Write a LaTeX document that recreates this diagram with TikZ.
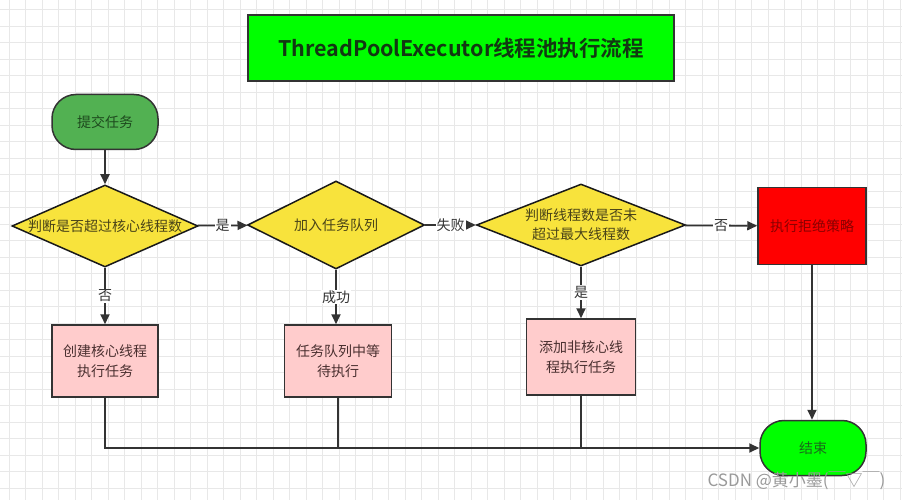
\documentclass[tikz,border=0pt]{standalone}
\usepackage{fontspec}
\setmainfont{Noto Sans CJK SC}[BoldFont={Noto Sans CJK SC Bold}]
\usetikzlibrary{arrows.meta, positioning, shapes.geometric}
\definecolor{grid-color}{HTML}{E8E8E8}
\definecolor{line-color}{HTML}{333333}
\definecolor{title-fill}{HTML}{00FF00}
\definecolor{title-text}{HTML}{123812}
\definecolor{start-fill}{HTML}{52B152}
\definecolor{start-text}{HTML}{1E4A1E}
\definecolor{cond-fill}{HTML}{F8E33C}
\definecolor{cond-text}{HTML}{4A4418}
\definecolor{task-fill}{HTML}{FFCCCC}
\definecolor{task-text}{HTML}{4A3030}
\definecolor{reject-fill}{HTML}{FF0000}
\definecolor{reject-text}{HTML}{8A0000}
\definecolor{end-fill}{HTML}{00FF00}
\definecolor{end-text}{HTML}{1A6A1A}
\definecolor{mark-color}{HTML}{9A9A9A}
\tikzset{
  title-node/.style={
    draw=line-color, fill=title-fill, line width=1.5pt,
    minimum width=426pt, minimum height=66pt, align=center,
    font=\fontsize{21.5}{25}\selectfont\bfseries, text=title-text
  },
  term-node/.style={
    draw=line-color, rounded corners=24pt, line width=1.5pt,
    minimum width=106pt, minimum height=55pt, align=center,
    font=\fontsize{14}{17}\selectfont
  },
  cond-node/.style={
    diamond, draw=black!90, fill=cond-fill, line width=1.5pt, inner sep=0pt,
    align=center, font=\fontsize{14}{19}\selectfont, text=cond-text
  },
  task-node/.style={
    draw=line-color, fill=task-fill, line width=1.5pt,
    minimum width=106pt, minimum height=72pt, align=center,
    font=\fontsize{14}{20}\selectfont, text=task-text
  },
  flow/.style={-{Triangle[length=10pt, width=9pt]}, line width=1.8pt, draw=line-color},
  merge-line/.style={line width=1.8pt, draw=line-color},
  edge-label/.style={fill=white, inner sep=1pt, font=\fontsize{14}{17}\selectfont, text=line-color}
}

\begin{document}
\begin{tikzpicture}[x=1pt, y=-1pt]
  \useasboundingbox (0,0) rectangle (902,500);
  \fill[white] (0,0) rectangle (902,500);
  % background grid
  \foreach \gx in {9,25.5,...,902} \draw[grid-color, line width=0.7pt] (\gx,0) -- (\gx,500);
  \foreach \gy in {9.5,26,...,500} \draw[grid-color, line width=0.7pt] (0,\gy) -- (902,\gy);

  \node[title-node] (title) at (461, 48) {ThreadPoolExecutor线程池执行流程};

  \node[term-node, fill=start-fill, text=start-text] (submit) at (105, 122) {提交任务};
  \node[cond-node, aspect=2.27, minimum width=186pt, minimum height=82pt] (core-check)  at (105, 226) {判断是否超过核心线程数};
  \node[cond-node, aspect=2.0, minimum width=177pt, minimum height=88pt] (queue-check) at (336, 225) {加入任务队列};
  \node[cond-node, aspect=2.55, minimum width=209pt, minimum height=82pt] (max-check)   at (581, 225) {判断线程数是否未\\超过最大线程数};
  \node[task-node, fill=reject-fill, text=reject-text, minimum width=108pt, minimum height=77pt] (reject) at (812, 226) {执行拒绝策略};

  \node[task-node] (core-task)  at (105, 361) {创建核心线程\\执行任务};
  \node[task-node, minimum width=107pt] (queue-task) at (338, 361) {任务队列中等\\待执行};
  \node[task-node, minimum width=109pt, minimum height=76pt] (extra-task) at (581, 357) {添加非核心线\\程执行任务};

  \node[term-node, fill=end-fill, text=end-text] (finish) at (813, 448) {结束};

  \draw[flow] (submit) -- (core-check);
  \draw[flow] (core-check) -- node[edge-label] {是} (queue-check);
  \draw[flow] (queue-check) -- node[edge-label] {失败} (max-check);
  \draw[flow] (max-check) -- node[edge-label] {否} (reject);
  \draw[flow] (core-check) -- node[edge-label] {否} (core-task);
  \draw[flow] (queue-check.south) -- node[edge-label] {成功} (queue-check.south |- queue-task.north);
  \draw[flow] (max-check) -- node[edge-label] {是} (extra-task);
  \draw[flow] (reject) -- (reject |- finish.north);

  \draw[flow] (core-task.south) |- (finish.west);
  \draw[merge-line] (queue-task.south) -- (queue-task.south |- finish.west);
  \draw[merge-line] (extra-task.south) -- (extra-task.south |- finish.west);

  \node[text=mark-color, font=\fontsize{17}{20}\selectfont, anchor=east] (mark) at (889, 481) {CSDN @黄小墨(￣▽￣)};
\end{tikzpicture}
\end{document}
